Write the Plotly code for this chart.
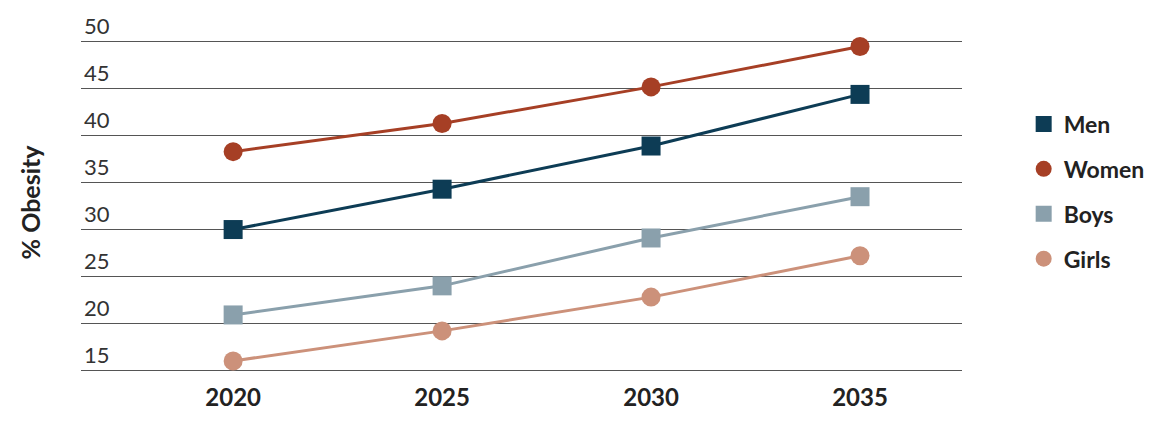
import plotly.graph_objects as go

years = [2020, 2025, 2030, 2035]
men = [30.0, 34.3, 38.9, 44.4]
women = [38.3, 41.3, 45.2, 49.5]
boys = [20.9, 24.0, 29.1, 33.5]
girls = [16.0, 19.2, 22.8, 27.2]
y_ticks = [15, 20, 25, 30, 35, 40, 45, 50]

series = [
    ("Men", men, "#0d3c55", "square"),
    ("Women", women, "#a63f25", "circle"),
    ("Boys", boys, "#8aa0ac", "square"),
    ("Girls", girls, "#cc917a", "circle"),
]

fig = go.Figure()
for name, vals, color, sym in series:
    fig.add_trace(go.Scatter(
        x=years, y=vals, name=name, mode="lines",
        line=dict(color=color, width=3),
        showlegend=False, hoverinfo="skip",
    ))
for name, vals, color, sym in series:
    fig.add_trace(go.Scatter(
        x=years, y=vals, name=name, mode="markers",
        marker=dict(color=color, symbol=sym, size=19),
        legendgroup=name,
    ))

fig.add_annotation(
    text="<b>% Obesity</b>", textangle=-90,
    xref="paper", yref="paper", x=-0.058, y=0.474,
    xanchor="center", yanchor="middle", showarrow=False,
    font=dict(size=25, family="Lato, sans-serif", color="#222222"),
)

fig.update_layout(
    width=1161, height=426,
    margin=dict(l=73, r=207, t=1.2, b=59.3),
    paper_bgcolor="white", plot_bgcolor="white",
    font=dict(family="Lato, sans-serif", color="#222222"),
    showlegend=True,
    legend=dict(
        x=1.07, y=0.7445, xanchor="left", yanchor="top",
        font=dict(size=23, color="#222222", family="Lato, sans-serif", weight="bold"),
        tracegroupgap=12,
    ),
    xaxis=dict(
        range=[2016.36, 2037.44], tickvals=years, ticktext=[str(y) for y in years],
        showgrid=False, zeroline=False, showline=False, ticks="",
        tickfont=dict(size=24, family="Lato, sans-serif", weight="bold", color="#222222"),
        ticklabelstandoff=6,
    ),
    yaxis=dict(
        range=[14.5, 53.5], tickvals=y_ticks, ticktext=[str(v) for v in y_ticks],
        showgrid=True, gridcolor="#555555", gridwidth=1,
        zeroline=False, showline=False, ticks="",
        ticklabelposition="inside top",
        tickfont=dict(size=22, family="Lato, sans-serif", color="#333333"),
    ),
)

fig.write_html("out.html")
